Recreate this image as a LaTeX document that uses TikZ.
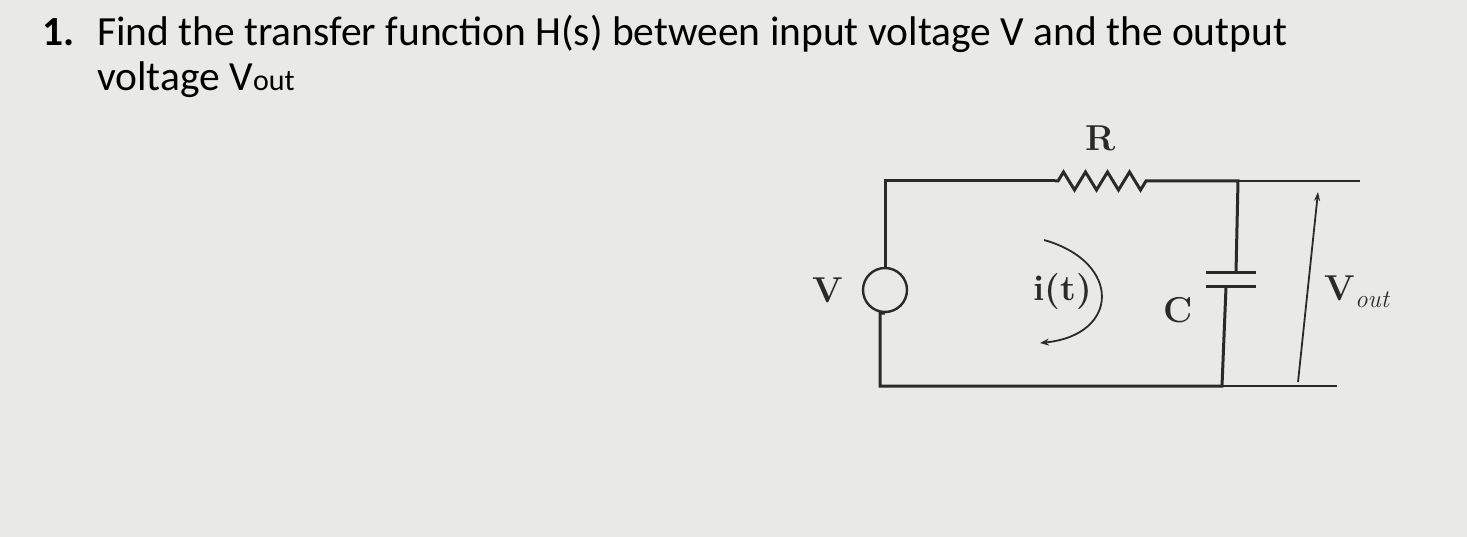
\documentclass[tikz,border=0pt]{standalone}
\usepackage{fontspec}
\newfontfamily\carl{Carlito}
\usetikzlibrary{decorations.pathmorphing,arrows.meta}
\definecolor{bg}{HTML}{E9EAE8}
\definecolor{ink}{HTML}{2A2A2A}
\begin{document}
\begin{tikzpicture}[x=1pt,y=-1pt,
  wire/.style={draw=ink,line width=3pt},
  thin/.style={draw=ink,line width=1.8pt},
  lbl/.style={text=ink,font=\fontsize{36}{38}\selectfont\bfseries,inner sep=0pt}]
\fill[bg] (0,0) rectangle (1467,537);
\useasboundingbox (0,0) rectangle (1467,537);
\node[anchor=base west,inner sep=0pt,text=black,font=\carl\fontsize{41.5}{44}\selectfont] (n1) at (42,46) {\textbf{1.}};
\node[anchor=base west,inner sep=0pt,text=black,font=\carl\fontsize{41.5}{44}\selectfont] (t1) at (97,46) {Find the transfer function H(s) between input voltage V and the output};
\node[anchor=base west,inner sep=0pt,text=black,font=\carl\fontsize{41.5}{44}\selectfont] (t2) at (97,91) {voltage V{\fontsize{30}{32}\selectfont out}};
% coordinates
\coordinate (tl) at (888,181);
\coordinate (r1) at (1055,181);
\coordinate (r2) at (1158,181);
\coordinate (tc) at (1238,181);
\coordinate (tr) at (1360,181);
\coordinate (bl) at (880,386);
\coordinate (bc) at (1222,386);
\coordinate (br) at (1337,386);
\node[draw=ink,line width=2.4pt,circle,minimum size=44pt,inner sep=0pt] (src) at (885,290) {};
\coordinate (p1) at (1236,273);
\coordinate (p2) at (1226,287);
\draw[wire] (src.north) -- (src.north |- tl) -- (r1);
\draw[wire,decorate,decoration={zigzag,segment length=22pt,amplitude=9pt,pre length=3pt,post length=5pt}] (r1) -- (r2);
\draw[wire] (r2) -- (tc) -- (p1);
\draw[thin] (tc) -- (tr);
\draw[wire] (src.south) -- (src.south -| bl) -- (bl) -- (bc) -- (p2);
\draw[thin] (bc) -- (br);
\draw[wire] ([xshift=-30pt]p1) -- ([xshift=20pt]p1);
\draw[wire] ([xshift=-20pt]p2) -- ([xshift=30pt]p2);
\coordinate (a1) at (1298,382);
\coordinate (a2) at (1318,192);
\draw[thin,-{Stealth[length=9pt,width=6pt]}] (a1) -- (a2);
\coordinate (c1) at (1044,240);
\coordinate (c2) at (1040,343);
\draw[line width=1.8pt,draw=ink,-{Stealth[length=9pt,width=7pt]}] (c1) .. controls (1122,262) and (1120,335) .. (c2);
\node[lbl] (lr) at (1101,138) {R};
\node[lbl] (lv) at (828,290) {V};
\node[lbl] (li) at (1063,292) {i(t)};
\node[lbl] (lc) at (1178,310) {C};
\node[lbl] (lo) at (1357,292) {V$_{\mathit{out}}$};
\end{tikzpicture}
\end{document}
